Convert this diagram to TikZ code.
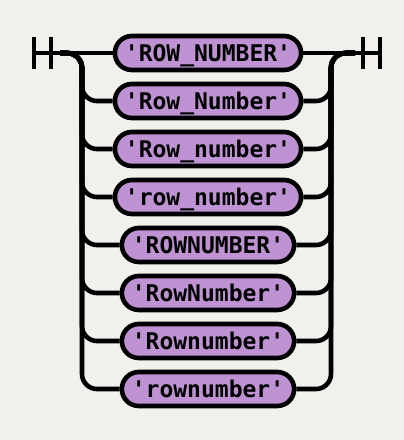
\documentclass[tikz,border=0pt]{standalone}
\usepackage{fontspec}
\usepackage{xcolor}
\usepackage{tikz}
\setmonofont{DejaVu Sans Mono}
\definecolor{paper}{RGB}{242,240,237}
\definecolor{termfill}{RGB}{190,146,211}
\tikzstyle{rail}=[line width=4.6pt]
\tikzstyle{term}=[draw,line width=4.6pt,fill=termfill,rounded corners=17pt,minimum height=34pt,inner xsep=10pt,inner ysep=0pt,font=\ttfamily\bfseries\fontsize{23}{23}\selectfont,text height=20pt,text depth=4pt]
\def\railbar#1{\draw[rail] ([yshift=16pt]#1) -- ([yshift=-16pt]#1)}

\begin{document}
\begin{tikzpicture}[x=1pt,y=-1pt]
    \fill[paper] (0,0) rectangle (404,440);
    \useasboundingbox (0,0) rectangle (404,440);
    \foreach \lbl [count=\i] in {ROW\_NUMBER,Row\_Number,Row\_number,row\_number,ROWNUMBER,RowNumber,Rownumber,rownumber}
    \node[term] (r\i) at (208,5+48*\i) {'\lbl'};
    \coordinate (start) at (34,53);
    \coordinate (start2) at (51,53);
    \coordinate (la) at (60,53);
    \coordinate (lcol) at (82,0);
    \coordinate (rcol) at (331,0);
    \coordinate (ra) at (355,53);
    \coordinate (stop2) at (363,53);
    \coordinate (stop) at (380,53);
    \railbar{start}; \railbar{start2};
    \railbar{stop}; \railbar{stop2};
    \draw[rail] (start) -- (r1.west);
    \draw[rail] (r1.east) -- (stop);
    \foreach \i in {2,...,8} {
    \draw[rail,rounded corners=15pt] (la) -| (lcol |- r\i.west) -- (r\i.west);
    \draw[rail,rounded corners=15pt] (r\i.east) -- (rcol |- r\i.east) |- (ra);
    }
  \end{tikzpicture}
\end{document}
